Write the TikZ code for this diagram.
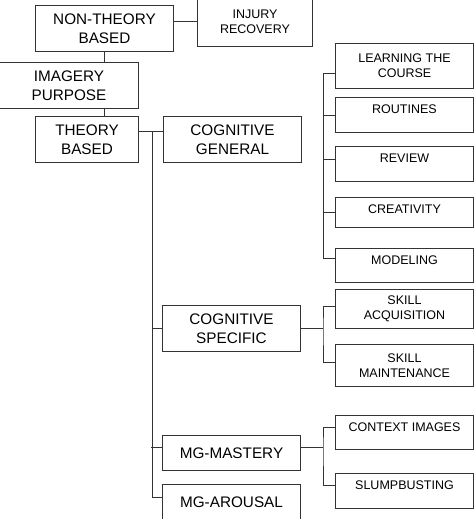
\documentclass[tikz,border=0pt]{standalone}
\usepackage{fontspec}
\setmainfont{Liberation Sans}
\usetikzlibrary{positioning}
\definecolor{boxline}{HTML}{333333}

\begin{document}
\begin{tikzpicture}[
    x=1pt, y=-1pt,
    node distance=24pt,
    catbox/.style={rectangle, draw=boxline, line width=1pt, align=center, inner sep=0pt, anchor=north west},
    mainbox/.style={catbox, font=\fontsize{15.3}{19.5}\selectfont, minimum width=138pt, minimum height=46pt},
    leafbox/.style={catbox, font=\fontsize{12.5}{14.8}\selectfont, minimum width=138pt},
    leafone/.style={leafbox, text height=16pt, text depth=#1},
    link/.style={draw=boxline, line width=1pt}
]
\useasboundingbox (0,0) rectangle (474,519);
\clip (0,0) rectangle (474,519);

\node[mainbox] (nontheory) at (35,5) {NON-THEORY\\BASED};
\node[leafbox, minimum width=115pt, minimum height=50pt] (injury) at (197,-4) {INJURY\\RECOVERY};
\node[mainbox, minimum width=139pt] (imagery) at (-1,62) {IMAGERY\\PURPOSE};
\node[mainbox, minimum width=103pt] (theory) at (35,116) {THEORY\\BASED};
\node[mainbox, right=24pt of theory] (cgeneral) {COGNITIVE\\GENERAL};
\node[mainbox] (cspecific) at (162,305) {COGNITIVE\\SPECIFIC};
\node[mainbox, minimum height=35pt] (mgmastery) at (162,435) {MG-MASTERY};
\node[mainbox, minimum height=36pt] (mgarousal) at (162,484) {MG-AROUSAL};

\node[leafbox, minimum height=45pt] (learning) at (335,43) {LEARNING THE\\COURSE};
\node[leafone=19pt] (routines) at (335,97) {ROUTINES};
\node[leafone=19pt] (review) at (335,146) {REVIEW};
\node[leafone=14pt] (creativity) at (335,197) {CREATIVITY};
\node[leafone=18pt] (modeling) at (335,248) {MODELING};
\node[leafbox, minimum height=39pt] (skillacq) at (335,289) {SKILL\\ACQUISITION};
\node[leafbox, minimum height=42pt] (skillmaint) at (335,344) {SKILL\\MAINTENANCE};
\node[leafone=18pt] (context) at (335,415) {CONTEXT IMAGES};
\node[leafone=19pt] (slump) at (335,473) {SLUMPBUSTING};

\draw[link] (nontheory.east |- injury.west) -- (injury.west);
\draw[link] (nontheory.south) -- (nontheory.south |- imagery.north);
\draw[link] (nontheory.south |- imagery.south) -- (nontheory.south |- theory.north);

\draw[link] ([yshift=8pt]theory.east) -- ([yshift=8pt]cgeneral.west);
\draw[link] ([xshift=13pt,yshift=8pt]theory.east) coordinate (trunk) |- ([yshift=5pt]mgarousal.west);
\draw[link] (cspecific.west) -- (trunk |- cspecific.west);
\draw[link] ([yshift=6pt]mgmastery.west) -- ++(-11,0);

\draw[link] ([yshift=-7pt]learning.west) -- ++(-12,0) |- ([yshift=7pt]modeling.west);
\draw[link] ([yshift=5pt]review.west) -- ++(-12,0);
\foreach \n in {routines, creativity}
    \draw[link] (\n.west) -- ++(-12,0);

\draw[link] (cspecific.east) -- ++(22,0) coordinate (specspine);
\draw[link] ([yshift=3pt]skillacq.west) -| (specspine) |- ([yshift=3pt]skillmaint.west);

\draw[link] ([yshift=6pt]mgmastery.east) -- ++(22,0) coordinate (mastspine);
\draw[link] ([yshift=5pt]context.west) -| (mastspine) |- ([yshift=6pt]slump.west);

\end{tikzpicture}
\end{document}
